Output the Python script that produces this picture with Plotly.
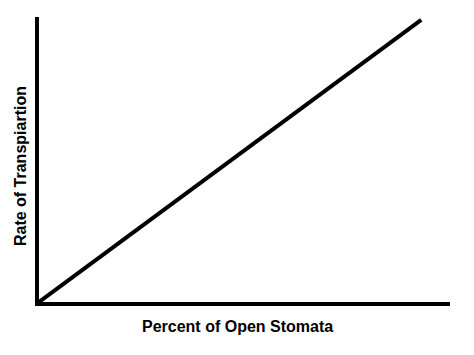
import plotly.graph_objects as go

# Data: schematic linear relationship
percent_open = [0, 93]
transpiration = [0, 99]
x_title = "Percent of Open Stomata"
y_title = "Rate of Transpiartion"

fig = go.Figure()
fig.add_trace(go.Scatter(
    x=percent_open, y=transpiration, mode="lines",
    line=dict(color="black", width=4), showlegend=False, hoverinfo="skip"
))

axis_common = dict(
    showgrid=False, zeroline=False, showticklabels=False, ticks="",
    showline=True, linecolor="black", linewidth=4,
)
fig.update_xaxes(range=[0, 100], **axis_common)
fig.update_yaxes(range=[0, 100], **axis_common)

font = dict(family="Liberation Sans, Arial, sans-serif", size=16, color="black")
fig.update_layout(
    width=474, height=355,
    margin=dict(l=39, r=24, t=17, b=53),
    paper_bgcolor="white", plot_bgcolor="white",
    annotations=[
        dict(text="<b>%s</b>" % x_title, x=0.4818, y=-0.0877, xref="paper", yref="paper",
             showarrow=False, font=font, xanchor="center", yanchor="middle"),
        dict(text="<b>%s</b>" % y_title, x=-0.0462, y=0.477, xref="paper", yref="paper",
             showarrow=False, font=font, xanchor="center", yanchor="middle", textangle=-90),
    ],
)
fig.write_html("out.html")
